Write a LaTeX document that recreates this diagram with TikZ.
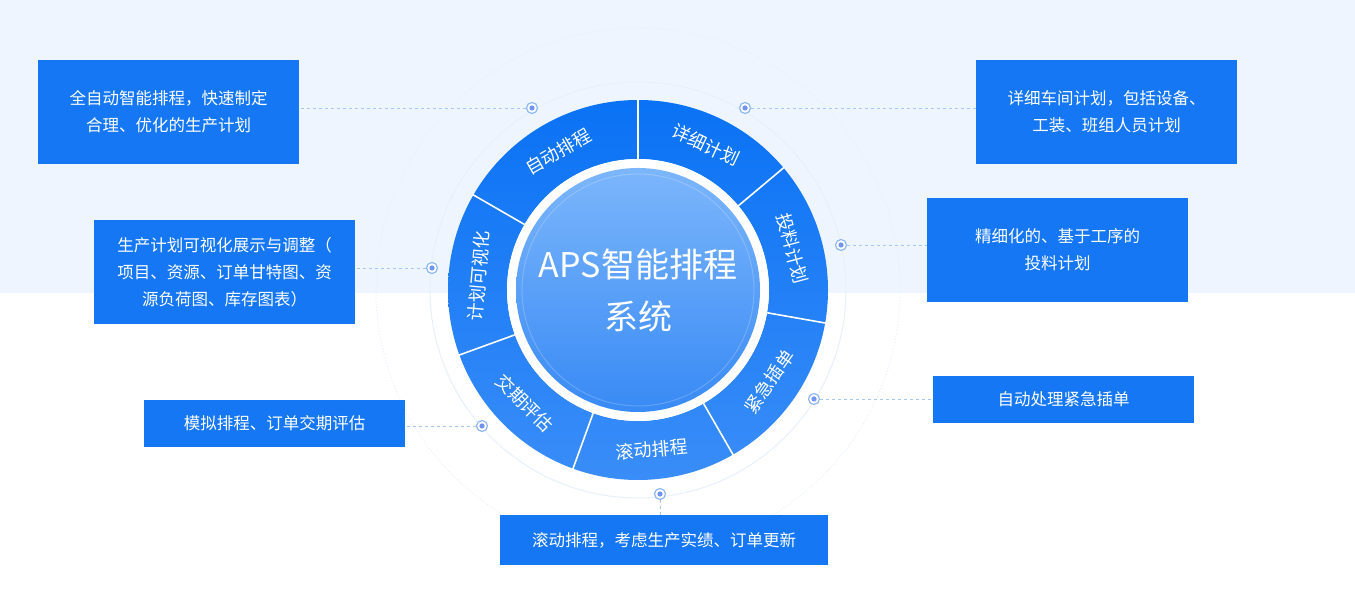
\documentclass[tikz,border=0pt]{standalone}
\usepackage{fontspec}
\setmainfont{Noto Sans CJK SC}
\usetikzlibrary{calc}
\begin{document}
\begin{tikzpicture}[x=1pt,y=1pt,
  box/.style={fill=boxblue,text=white,font=\fontsize{16.5}{27}\selectfont,align=center,inner sep=0pt},
  seg/.style={text=white,font=\fontsize{18}{20}\selectfont},
  mk/.style={circle,draw=mkc,line width=1.2pt,fill=white,minimum size=11pt,inner sep=0pt,
    path picture={\fill[mkc!80!blue] (path picture bounding box.center) circle (2.6pt);}},
  link/.style={draw=linec,dashed,line width=0.8pt}]
\definecolor{boxblue}{HTML}{1677F5}
\definecolor{segtop}{HTML}{0A72F5}
\definecolor{segbot}{HTML}{3A8DF8}
\definecolor{ctop}{HTML}{7CB6FB}
\definecolor{cbot}{HTML}{388AF5}
\definecolor{mkc}{HTML}{8DB9F0}
\definecolor{linec}{HTML}{A3C6F3}
\definecolor{bgtop}{HTML}{EEF5FE}
\definecolor{ring}{HTML}{E8F0FB}
\useasboundingbox (0,0) rectangle (1355,609);
\fill[white] (0,0) rectangle (1355,609);
\fill[bgtop] (0,316) rectangle (1355,609);
\coordinate (c) at (638,319);
% faint rings
\draw[ring,line width=1pt,dotted] (c) circle (262);
\draw[ring,line width=1pt] (c) circle (208);
% annulus
\shade[even odd rule,top color=segtop,bottom color=segbot] (c) circle (190) (c) circle (131);
\fill[white] (c) circle (131);
\shade[top color=ctop,bottom color=cbot] (c) circle (122);
\draw[white,opacity=0.2,line width=1pt] (c) circle (116);
\foreach \a in {90,40,-10,-60,-110,-160,150}
  \draw[white,line width=1.6pt] ($(c)+(\a:131)$) -- ($(c)+(\a:191)$);
% segment labels
\node[seg,rotate=30] (s1) at ($(c)+(120:160)$) {自动排程};
\node[seg,rotate=-25] (s2) at ($(c)+(65:160)$) {详细计划};
\node[seg,rotate=-75] (s3) at ($(c)+(15:160)$) {投料计划};
\node[seg,rotate=55] (s4) at ($(c)+(-35:160)$) {紧急插单};
\node[seg,rotate=5] (s5) at ($(c)+(-85:160)$) {滚动排程};
\node[seg,rotate=-45] (s6) at ($(c)+(-135:160)$) {交期评估};
\node[seg,rotate=85] (s7) at ($(c)+(175:160)$) {计划可视化};
\node[text=white,align=center,font=\fontsize{34}{52}\selectfont] (ctr) at (c) {APS智能排程\\系统};
% boxes
\node[box,minimum width=261pt,minimum height=104pt] (b1) at (168.5,497) {全自动智能排程，快速制定\\合理、优化的生产计划};
\node[box,minimum width=261pt,minimum height=104pt] (b2) at (1106.5,497) {详细车间计划，包括设备、\\工装、班组人员计划};
\node[box,minimum width=261pt,minimum height=104pt] (b3) at (1057.5,359) {精细化的、基于工序的\\投料计划};
\node[box,minimum width=261pt,minimum height=104pt] (b4) at (224.5,337) {生产计划可视化展示与调整（\\项目、资源、订单甘特图、资\\源负荷图、库存图表）};
\node[box,minimum width=261pt,minimum height=47pt] (b5) at (1063.5,209.5) {自动处理紧急插单};
\node[box,minimum width=261pt,minimum height=47pt] (b6) at (274.5,185.5) {模拟排程、订单交期评估};
\node[box,minimum width=328pt,minimum height=50pt] (b7) at (664,69) {滚动排程，考虑生产实绩、订单更新};
% markers
\node[mk] (m1) at (532,501) {};
\node[mk] (m2) at (745,501) {};
\node[mk] (m3) at (841,364) {};
\node[mk] (m4) at (432,341) {};
\node[mk] (m5) at (814,210) {};
\node[mk] (m6) at (482,183) {};
\node[mk] (m7) at (660,115) {};
\draw[link] (m1) -- (b1.east |- m1);
\draw[link] (m2) -- (b2.west |- m2);
\draw[link] (m3) -- (b3.west |- m3);
\draw[link] (m4) -- (b4.east |- m4);
\draw[link] (m5) -- (b5.west |- m5);
\draw[link] (m6) -- (b6.east |- m6);
\draw[link] (m7) -- (m7 |- b7.north);
\end{tikzpicture}
\end{document}
